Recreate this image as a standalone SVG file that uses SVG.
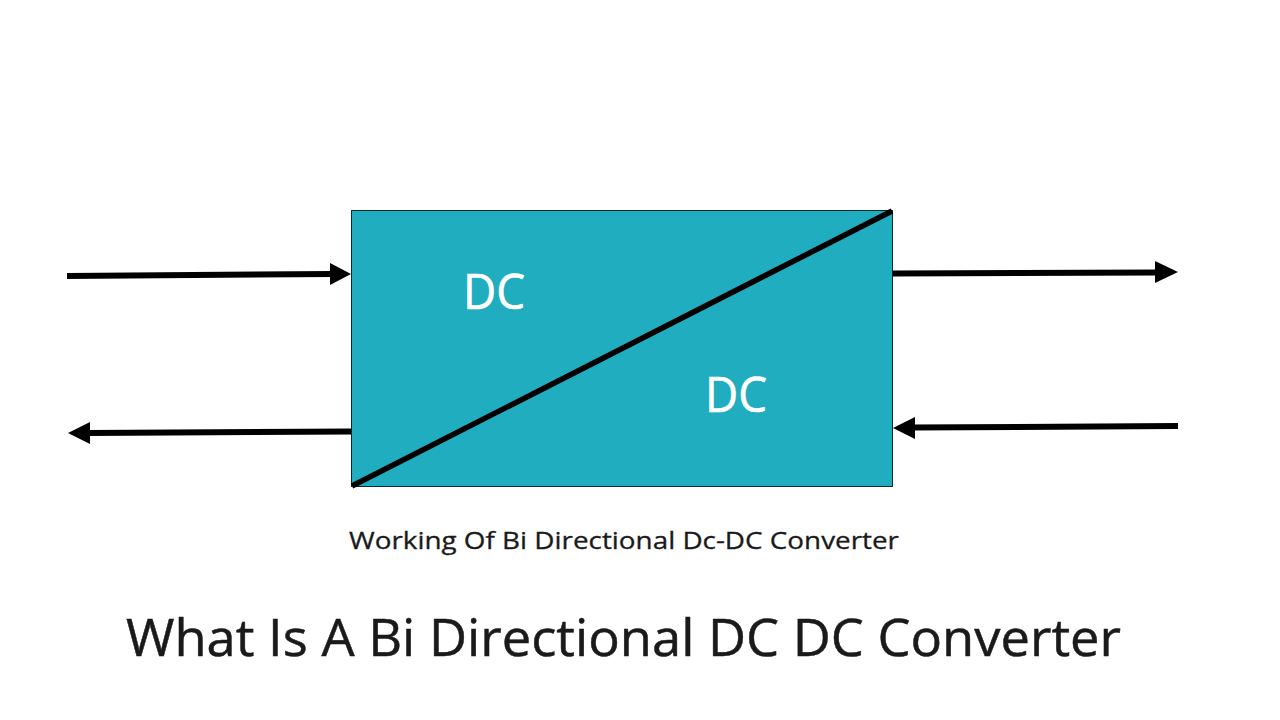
<svg xmlns="http://www.w3.org/2000/svg" width="1280" height="720" viewBox="0 0 1280 720">
<style>
.wire{stroke:#000;stroke-width:6;fill:none}
.head{fill:#000}
.lbl{font-family:"Open Sans","Noto Sans",sans-serif;fill:#fff;font-size:49px;stroke:#fff;stroke-width:0.6}
.cap{font-family:"Open Sans","Noto Sans",sans-serif;fill:#1a1a1a}
</style>
<rect width="1280" height="720" fill="#fff"/>
<g id="converter">
<rect x="351.5" y="210.5" width="541" height="276" fill="#1fadbf" stroke="#0a2a30" stroke-width="1"/>
<line x1="352" y1="486" x2="892" y2="211" stroke="#000" stroke-width="5.5"/>
<text class="lbl" x="463" y="309" textLength="62" lengthAdjust="spacingAndGlyphs">DC</text>
<text class="lbl" x="705" y="412" textLength="62" lengthAdjust="spacingAndGlyphs">DC</text>
</g>
<g id="connectors">
<line class="wire" x1="67" y1="276" x2="333" y2="274"/>
<polygon class="head" points="330,263 351,274 330,285"/>
<line class="wire" x1="351" y1="431.5" x2="88" y2="433"/>
<polygon class="head" points="90,422 68,433 90,444"/>
<line class="wire" x1="893" y1="273.5" x2="1158" y2="272.5"/>
<polygon class="head" points="1155,261 1178,272 1155,283"/>
<line class="wire" x1="1178" y1="426" x2="912" y2="427.5"/>
<polygon class="head" points="915,417 893,428 915,439"/>
</g>
<g id="captions">
<text class="cap" x="349" y="549" font-size="24" textLength="550" lengthAdjust="spacingAndGlyphs" stroke="#1a1a1a" stroke-width="0.3">Working Of Bi Directional Dc-DC Converter</text>
<text class="cap" x="126" y="656" font-size="52" textLength="995" lengthAdjust="spacingAndGlyphs" stroke="#1a1a1a" stroke-width="0.5">What Is A Bi Directional DC DC Converter</text>
</g>
</svg>
